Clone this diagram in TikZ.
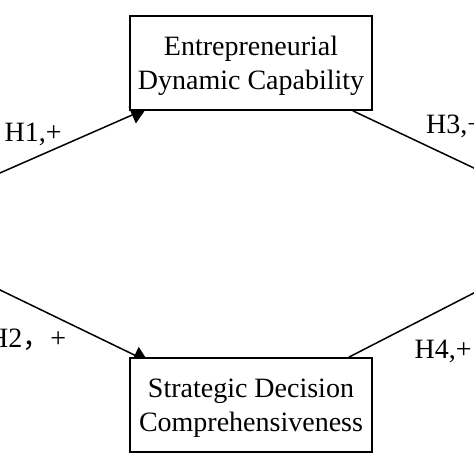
\documentclass[tikz,border=0pt]{standalone}
\usepackage{fontspec}
\setmainfont{Liberation Serif}
\newfontfamily\cjk{Noto Sans CJK SC}
\usetikzlibrary{arrows.meta}
\begin{document}
\begin{tikzpicture}[x=1pt,y=1pt,
  box/.style={draw, line width=1.6pt, fill=white, minimum width=242pt, minimum height=94pt, inner sep=0pt},
  boxtext/.style={align=center, font=\fontsize{28}{34}\selectfont, inner sep=0pt},
  lbl/.style={anchor=base west, font=\fontsize{28}{34}\selectfont, inner sep=0pt},
  link/.style={line width=1.5pt},
  arr/.style={link, -{Triangle[length=15pt,width=18pt]}}]
\useasboundingbox (0,0) rectangle (474,474);
\clip (0,0) rectangle (474,474);
\fill[white] (0,0) rectangle (474,474);
\coordinate (L1) at (-40,283.5);
\coordinate (L2) at (-40,203.4);
\coordinate (R1) at (520,284.2);
\coordinate (R2) at (520,204.7);
\node[box] (edc) at (251,411) {};
\node[box] (sdc) at (251,69) {};
\draw[arr] (L1) -- ([xshift=16.7pt,yshift=1.8pt]edc.south west);
\draw[arr] (L2) -- ([xshift=19pt,yshift=-4.5pt]sdc.north west);
\draw[link] ([xshift=-20pt]edc.south east) -- (R1);
\draw[link] ([xshift=-24pt]sdc.north east) -- (R2);
\node[box] at (edc) {};
\node[box] at (sdc) {};
\node[boxtext] (edct) at (251,408.5) {Entrepreneurial\\Dynamic Capability};
\node[boxtext] (sdct) at (251,65.6) {Strategic Decision\\Comprehensiveness};
\node[lbl] (h1) at (4.5,332) {H1,+};
\node[lbl] (h3) at (426,340.7) {H3,+};
\node[lbl] (h2) at (-12,126) {H2{\cjk ，}+};
\node[lbl] (h4) at (414.5,115) {H4,+};
\end{tikzpicture}
\end{document}
